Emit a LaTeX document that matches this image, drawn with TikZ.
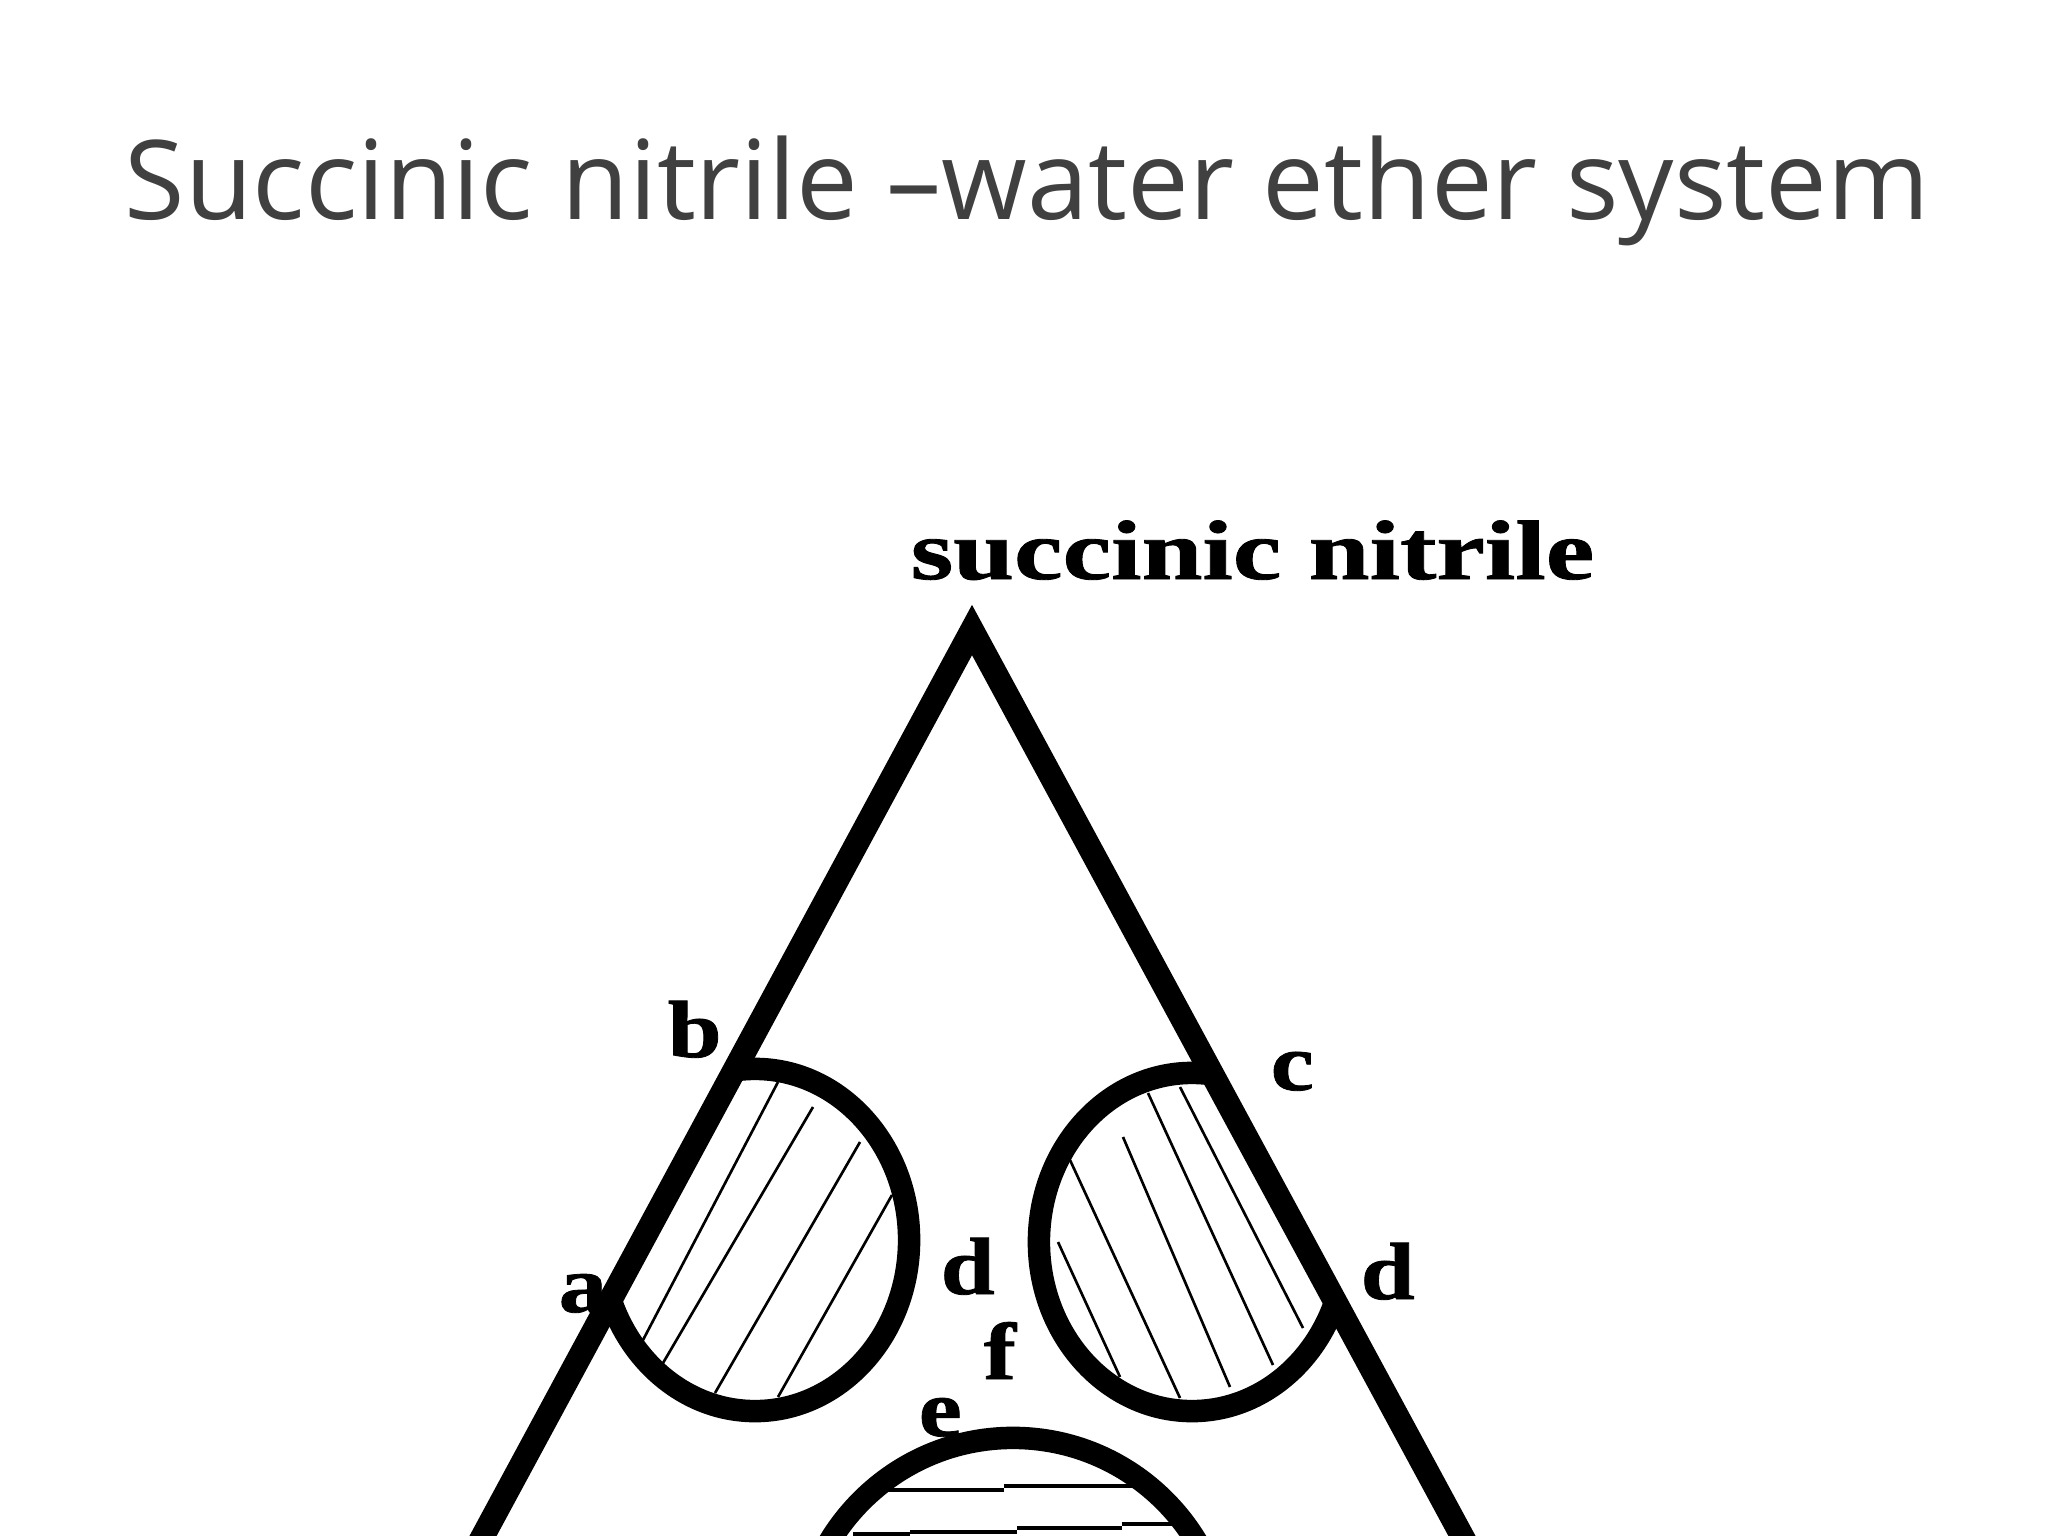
\documentclass[tikz,border=0pt]{standalone}
\usepackage{fontspec}
\usetikzlibrary{calc}
\newfontfamily\titlefont{Open Sans}
\newfontfamily\labfont[FakeStretch=1.2,FakeBold=1]{Liberation Serif}
\definecolor{titlegrey}{HTML}{404040}
\begin{document}
\begin{tikzpicture}[x=0.01cm,y=-0.01cm,
  side/.style={line width=6.8pt, line join=miter},
  loop/.style={line width=6.4pt},
  hatch/.style={line width=0.75pt},
  hhatch/.style={line width=1.2pt},
  lab/.style={inner sep=0pt, anchor=base west, font=\labfont\bfseries\fontsize{23}{26}\selectfont},
  headlab/.style={inner sep=0pt, anchor=base west, font=\labfont\bfseries\fontsize{24}{28}\selectfont},
]
\useasboundingbox (0,0) rectangle (2048,1536);
\clip (0,0) rectangle (2048,1536);
\fill[white] (0,0) rectangle (2048,1536);

% title
\node[anchor=base west, inner sep=0pt, text=titlegrey, font=\titlefont\fontsize{31.3}{37}\selectfont] (title) at (124,219) {Succinic nitrile –water ether system};

% triangle corners
\coordinate (apex) at (972,630);
\coordinate (bl) at (483,1536);
\coordinate (br) at (1462,1536);
\coordinate (blx) at ($(apex)!1.2!(bl)$);
\coordinate (brx) at ($(apex)!1.2!(br)$);

% side circles, clipped by the triangle
\begin{scope}
  \clip (apex) -- (blx) -- (brx) -- cycle;
  \draw[loop] (755,1240) ellipse [x radius=1.54cm, y radius=1.71cm];
  \draw[loop] (1192,1242) ellipse [x radius=1.53cm, y radius=1.69cm];
\end{scope}

% bottom circle
\draw[loop] (1013,1652) circle [radius=2.14cm];

% hatching, left circle
\draw[hatch] (778,1082) -- (643,1340);
\draw[hatch] (813,1107) -- (663,1363);
\draw[hatch] (860,1142) -- (715,1393);
\draw[hatch] (892,1195) -- (778,1397);

% hatching, right circle
\draw[hatch] (1180,1087) -- (1303,1328);
\draw[hatch] (1148,1093) -- (1273,1365);
\draw[hatch] (1123,1137) -- (1230,1387);
\draw[hatch] (1070,1160) -- (1180,1398);
\draw[hatch] (1058,1242) -- (1120,1377);

% hatching, bottom circle
\draw[hhatch] (883,1490) -- (1004,1490);
\draw[hhatch] (1004,1486) -- (1133,1486);
\draw[hhatch] (853,1534) -- (910,1534);
\draw[hhatch] (910,1532) -- (1017,1532);
\draw[hhatch] (1017,1528) -- (1122,1528);
\draw[hhatch] (1122,1524) -- (1180,1524);

% triangle sides
\draw[side] (blx) -- (apex) -- (brx);

% labels
\node[headlab] (sn) at (910,579) {\scalebox{1.08}[1]{succinic nitrile}};
\node[lab] (lb) at (667,1057) {b};
\node[lab] (la) at (558,1312) {a};
\node[lab] (ld1) at (940,1294) {d};
\node[lab] (lc) at (1270,1090) {c};
\node[lab] (ld2) at (1360,1299) {d};
\node[lab] (lf) at (983,1379) {f};
\node[lab] (le) at (918,1436) {e};
\end{tikzpicture}
\end{document}
